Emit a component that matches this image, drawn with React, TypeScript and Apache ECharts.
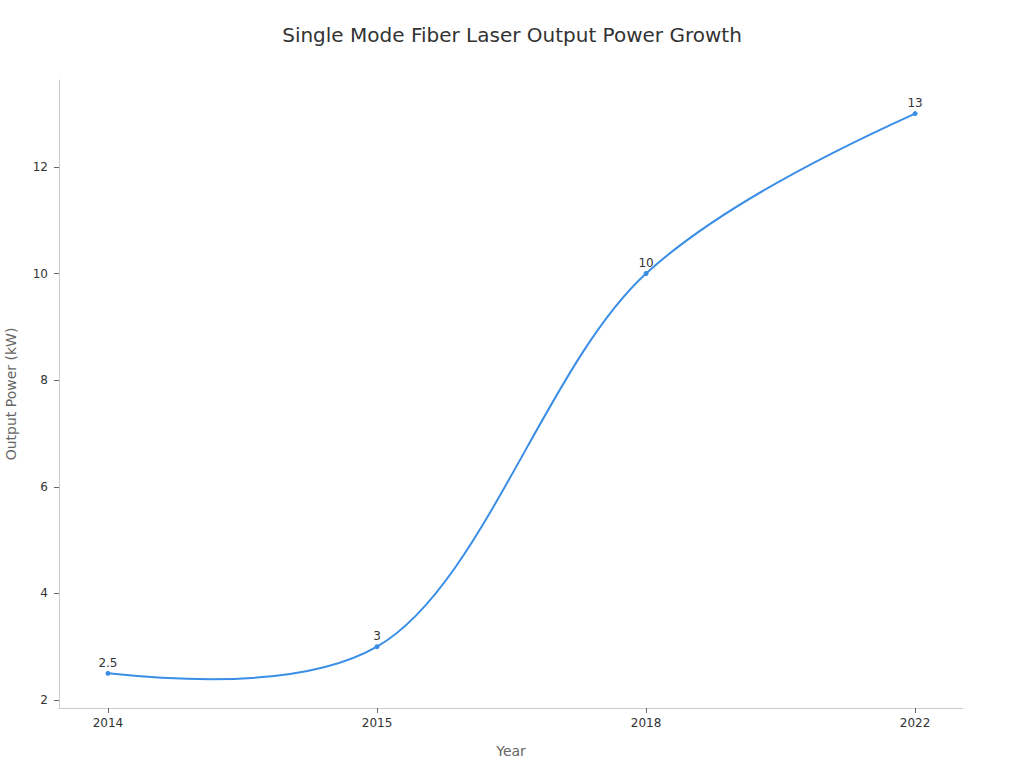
import React, { useEffect, useRef } from "react";
import * as echarts from "echarts";

const years = ["2014", "2015", "2018", "2022"];
const power = [2.5, 3, 10, 13];
const yTicks = [2, 4, 6, 8, 10, 12];

const LINE_COLOR = "#3a8ee6";

// Plotly-like Catmull-Rom spline tangent (smoothing = 1)
function makeTangent(prev: number[], cur: number[], next: number[], s: number) {
  const d1x = prev[0] - cur[0];
  const d1y = prev[1] - cur[1];
  const d2x = next[0] - cur[0];
  const d2y = next[1] - cur[1];
  const d1a = Math.pow(d1x * d1x + d1y * d1y, 0.25);
  const d2a = Math.pow(d2x * d2x + d2y * d2y, 0.25);
  const numx = (d2a * d2a * d1x - d1a * d1a * d2x) * s;
  const numy = (d2a * d2a * d1y - d1a * d1a * d2y) * s;
  const den1 = 3 * d2a * (d1a + d2a);
  const den2 = 3 * d1a * (d1a + d2a);
  return [
    [cur[0] + (den1 && numx / den1), cur[1] + (den1 && numy / den1)],
    [cur[0] - (den2 && numx / den2), cur[1] - (den2 && numy / den2)],
  ];
}

function splinePath(pts: number[][]) {
  if (pts.length < 3) return "M" + pts.map((p) => p.join(",")).join("L");
  const tangents: number[][][] = [];
  for (let i = 1; i < pts.length - 1; i++) tangents.push(makeTangent(pts[i - 1], pts[i], pts[i + 1], 1));
  let d = "M" + pts[0].join(",");
  d += "Q" + tangents[0][0].join(",") + " " + pts[1].join(",");
  for (let i = 2; i < pts.length - 1; i++) {
    d += "C" + tangents[i - 2][1].join(",") + " " + tangents[i - 1][0].join(",") + " " + pts[i].join(",");
  }
  d += "Q" + tangents[pts.length - 3][1].join(",") + " " + pts[pts.length - 1].join(",");
  return d;
}

export default function App() {
  const ref = useRef<HTMLDivElement>(null);
  useEffect(() => {
    if (!ref.current) return;
    const chart = echarts.init(ref.current, null, { renderer: "svg" });
    const xIdx = years.map((_, i) => i);
    const seriesData = power.map((v, i) => [i, v]);
    chart.setOption({
      animation: false,
      backgroundColor: "#ffffff",
      textStyle: { fontFamily: "DejaVu Sans" },
      title: {
        text: "Single Mode Fiber Laser Output Power Growth",
        left: "center",
        top: 20,
        textStyle: { fontFamily: "DejaVu Sans", fontSize: 20, fontWeight: "normal", color: "#333333" },
      },
      grid: { left: 59, right: 61, top: 80, bottom: 60, outerBoundsMode: "none", containLabel: false },
      xAxis: {
        type: "value",
        min: -0.182,
        max: 3.178,
        name: "Year",
        nameLocation: "middle",
        nameGap: 36,
        nameTextStyle: { fontSize: 14, color: "#666666" },
        axisLine: { show: true, onZero: false, lineStyle: { color: "#cccccc", width: 1 } },
        axisTick: { show: true, length: 5, customValues: xIdx, lineStyle: { color: "#666666" } },
        axisLabel: {
          customValues: xIdx,
          margin: 9,
          fontSize: 12,
          color: "#333333",
          formatter: (v: number) => years[Math.round(v)] ?? "",
        },
        splitLine: { show: false },
      },
      yAxis: {
        type: "value",
        min: 1.85,
        max: 13.63,
        name: "Output Power (kW)",
        nameLocation: "middle",
        nameGap: 41,
        nameTextStyle: { fontSize: 14, color: "#666666" },
        axisLine: { show: true, onZero: false, lineStyle: { color: "#cccccc", width: 1 } },
        axisTick: { show: true, length: 5, customValues: yTicks, lineStyle: { color: "#666666" } },
        axisLabel: { customValues: yTicks, margin: 11, fontSize: 12, color: "#333333" },
        splitLine: { show: false },
      },
      series: [
        {
          type: "custom",
          data: [0],
          z: 1,
          silent: true,
          renderItem: (_params: any, api: any) => {
            const pts = seriesData.map((d) => api.coord(d));
            return {
              type: "path",
              shape: { pathData: splinePath(pts) },
              style: { stroke: LINE_COLOR, fill: "none", lineWidth: 2 },
            };
          },
        },
        {
          type: "line",
          data: seriesData,
          z: 2,
          symbol: "circle",
          symbolSize: 5,
          itemStyle: { color: LINE_COLOR },
          lineStyle: { color: LINE_COLOR, width: 0, opacity: 0 },
          label: {
            show: true,
            position: "top",
            distance: 2,
            fontSize: 12,
            color: "#333333",
            formatter: (p: any) => String(p.value[1]),
          },
        },
      ],
    });
    return () => chart.dispose();
  }, []);
  return <div ref={ref} style={{ width: 1024, height: 768, position: "absolute", left: 0, top: 0 }} />;
}
